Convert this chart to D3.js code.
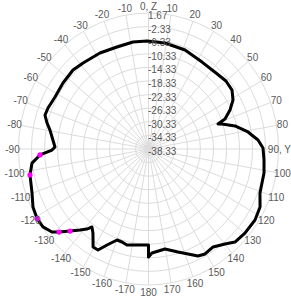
<!DOCTYPE html>
<html>
<head>
<meta charset="utf-8">
<script src="https://cdn.jsdelivr.net/npm/d3@7/dist/d3.min.js"></script>
<style>
  html, body { margin: 0; padding: 0; background: #fff; }
  svg text { font-family: "Liberation Sans", Arial, sans-serif; font-size: 10px; fill: #595959; }
</style>
</head>
<body>
<svg id="chart"></svg>
<script>
"use strict";

// =================== DATA ===================
// radial axis (dB), outer ring first
const ringValues = [1.67, -2.33, -6.33, -10.33, -14.33, -18.33, -22.33, -26.33, -30.33, -34.33, -38.33];

// angular axis labels, every 10 degrees clockwise from top
const spokeAngles = d3.range(0, 360, 10);
const spokeLabels = ["0, Z", "10", "20", "30", "40", "50", "60", "70", "80", "90, Y",
  "100", "110", "120", "130", "140", "150", "160", "170", "180",
  "-170", "-160", "-150", "-140", "-130", "-120", "-110", "-100", "-90",
  "-80", "-70", "-60", "-50", "-40", "-30", "-20", "-10"];

// measured pattern (degrees, dB)
const patternAngles = [-180, -176.6, -166.8, -163.4, -160.1, -155.7, -152.4, -149.4, -147.5, -145.3,
  -142.8, -141.2, -138.5, -135.0, -131.6, -129.4, -125.2, -120.9, -115.6, -109.9,
  -101.8, -96.6, -93.0, -90.6, -88.8, -83.2, -79.6, -76.2, -72.6, -68.7,
  -62.0, -53.6, -45.0, -38.5, -27.9, -17.9, -8.6, -0.8, 9.2, 21.1,
  32.8, 42.9, 50.0, 56.0, 61.0, 65.4, 69.4, 71.0, 72.0, 75.7,
  80.7, 85.5, 89.5, 95.2, 101.2, 106.0, 110.7, 116.4, 122.5, 129.8,
  135.8, 139.9, 145.4, 150.6, 154.2, 163.3, 170.2, 178.0, 180, 180];
const patternValues = [-10.09, -10.04, -9.33, -9.79, -9.87, -7.34, -4.81, -4.83, -6.58, -8.30,
  -9.55, -8.13, -6.52, -4.20, -1.53, 0.11, 1.42, 1.6, 1.09, -0.22,
  -1.08, -2.25, -4.90, -8.64, -9.55, -8.43, -7.51, -6.17, -4.95, -5.14,
  -5.75, -5.63, -5.47, -5.99, -6.39, -6.80, -6.50, -6.56, -6.74, -7.12,
  -7.91, -7.82, -7.21, -7.33, -8.60, -10.75, -13.19, -15.72, -14.55, -10.87,
  -7.31, -4.53, -3.10, -2.64, -2.09, -2.00, -1.66, -0.01, 0.53, 0.29,
  -0.17, -1.79, -3.33, -2.89, -3.37, -6.70, -8.48, -7.72, -6.56, -10.09];

// highlighted points
const markerAngles = [-135.0, -131.6, -120.9, -101.8, -93.0];
const markerValues = [-4.20, -1.53, 1.6, -1.08, -4.90];

// =================== SETUP ===================
const svgWidth = 291;
const svgHeight = 303;
const cx = 148.5, cy = 149;
const rx = 130, ry = 136;

const svg = d3.select("#chart")
  .attr("width", svgWidth)
  .attr("height", svgHeight);

const vMin = d3.min(ringValues), vMax = d3.max(ringValues);
const rX = d3.scaleLinear().domain([vMin, vMax]).range([0, rx]);
const rY = d3.scaleLinear().domain([vMin, vMax]).range([0, ry]);
const rad = d => d * Math.PI / 180;
const px = (a, v) => cx + rX(v) * Math.sin(rad(a));
const py = (a, v) => cy - rY(v) * Math.cos(rad(a));

// =================== GRID ===================
const grid = svg.append("g");
grid.selectAll("ellipse")
  .data(ringValues.filter(v => v > vMin))
  .enter().append("ellipse")
  .attr("cx", cx).attr("cy", cy)
  .attr("rx", d => rX(d)).attr("ry", d => rY(d))
  .attr("fill", "none")
  .attr("stroke", "#dcdcdc")
  .attr("stroke-width", 1);

grid.selectAll("line")
  .data(spokeAngles)
  .enter().append("line")
  .attr("x1", cx).attr("y1", cy)
  .attr("x2", d => px(d, vMax)).attr("y2", d => py(d, vMax))
  .attr("stroke", "#dcdcdc")
  .attr("stroke-width", 1);

// =================== PATTERN ===================
const pts = patternAngles.map((a, i) => [a, patternValues[i]]);
svg.append("path")
  .datum(pts)
  .attr("d", d3.line().x(d => px(d[0], d[1])).y(d => py(d[0], d[1])))
  .attr("fill", "none")
  .attr("stroke", "#000")
  .attr("stroke-width", 3)
  .attr("stroke-linejoin", "round")
  .attr("stroke-linecap", "round");

svg.selectAll("circle.mark")
  .data(markerAngles.map((a, i) => [a, markerValues[i]]))
  .enter().append("circle")
  .attr("class", "mark")
  .attr("cx", d => px(d[0], d[1]))
  .attr("cy", d => py(d[0], d[1]))
  .attr("r", 2.6)
  .attr("fill", "#ff00ff");

// =================== RADIAL LABELS ===================
svg.selectAll("text.rlabel")
  .data(ringValues)
  .enter().append("text")
  .attr("class", "rlabel")
  .attr("x", cx - 0.5)
  .attr("y", d => cy - rY(d) + 2.5)
  .attr("dominant-baseline", "central")
  .text(d => d.toFixed(2));

// =================== ANGLE LABELS ===================
const labelPadX = 6, labelPadY = 7;
svg.selectAll("text.alabel")
  .data(spokeAngles)
  .enter().append("text")
  .attr("class", "alabel")
  .attr("text-anchor", "middle")
  .attr("dominant-baseline", "central")
  .attr("y", d => cy - (ry + labelPadY) * Math.cos(rad(d)))
  .text((d, i) => spokeLabels[i])
  .each(function (d) {
    const w = this.getComputedTextLength();
    let x = cx + (rx + labelPadX) * Math.sin(rad(d));
    x = Math.max(w / 2, Math.min(svgWidth - w / 2, x));
    d3.select(this).attr("x", x);
  });
</script>
</body>
</html>
